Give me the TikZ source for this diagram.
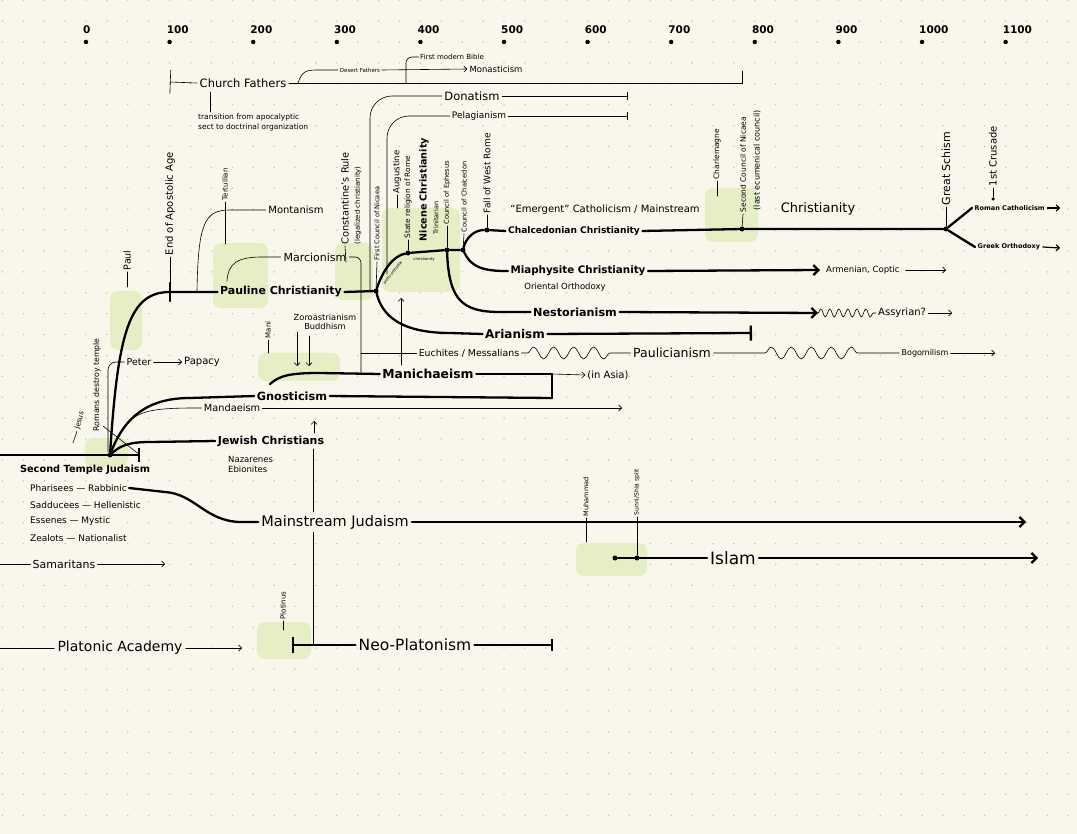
\documentclass[tikz,border=0pt]{standalone}
\usepackage{fontspec}
\setmainfont{DejaVu Sans}
\usetikzlibrary{arrows.meta,decorations.pathmorphing}
\definecolor{paper}{RGB}{249,246,236}
\definecolor{dotc}{RGB}{192,190,182}
\definecolor{hlc}{RGB}{229,238,197}
\newcommand{\fsz}[1]{\fontsize{#1}{#1}\selectfont}
\tikzset{
  yr/.style      = {font=\bfseries\fsz{10.5}, inner sep=1pt, anchor=west},
  sect/.style    = {font=\bfseries\fsz{11}, inner sep=2.5pt},
  big/.style     = {font=\fsz{14.5}, inner sep=3pt},
  medlab/.style  = {font=\fsz{10}, inner sep=2.5pt},
  note/.style    = {font=\fsz{8}, inner sep=2pt},
  tinylab/.style = {font=\fsz{6}, inner sep=1.5pt},
  vlab/.style    = {rotate=90, anchor=west, inner sep=1.5pt},
  main/.style    = {line width=2.3pt, line cap=round, line join=round},
  fine/.style    = {line width=0.6pt, line cap=round},
  arr/.style     = {fine, -{Straight Barb[length=3pt,width=6pt]}},
  marr/.style    = {main, -{Straight Barb[length=5pt,width=10pt]}},
  wavy/.style    = {decoration={snake, amplitude=6pt, segment length=20pt}},
  hl/.style      = {fill=hlc, rounded corners=8pt},
  jdot/.style    = {circle, fill=black, inner sep=0pt, minimum size=5pt},
}

\begin{document}
\begin{tikzpicture}[x=1pt, y=-1pt]
  \useasboundingbox (0,0) rectangle (1077,834);
  \fill[paper] (0,0) rectangle (1077,834);
  \foreach \i in {0,...,51}
    \foreach \j in {0,...,39}
      \fill[dotc] ({2.4+20.9*\i},{0.2+20.9*\j}) circle (0.8pt);

  % highlights
  \fill[hl] (85,438) rectangle (128,467);
  \fill[hl] (110,291) rectangle (142,350);
  \fill[hl] (213,243) rectangle (268,308);
  \fill[hl] (335,243) rectangle (373,300);
  \fill[hl] (382,208) rectangle (460,292);
  \fill[hl] (258,353) rectangle (340,381);
  \fill[hl] (705,188) rectangle (758,242);
  \fill[hl] (576,543) rectangle (647,576);
  \fill[hl] (257,622) rectangle (311,659);

  % years
  \foreach \n [count=\i from 0] in {0,100,...,1100} {
    \node[jdot, minimum size=4.5pt] (yd\n) at ({86+83.6*\i},42) {};
    \node[yr] (y\n) at ({82+83.6*\i},30) {\n};
  }

  % church fathers
  \coordinate (cf0) at (170,82);
  \node[medlab, font=\fsz{11.5}] (cf) at (243,83) {Church Fathers};
  \coordinate (cfend) at (742,83);
  \coordinate (cftop) at (742,71);
  \coordinate (dfb) at (298,83);
  \node[tinylab, font=\fsz{5.5}] (desert) at (360,70) {Desert Fathers};
  \node[note, font=\fsz{8.5}] (monast) at (496,69) {Monasticism};
  \coordinate (bib) at (406,83);
  \node[tinylab, font=\fsz{7}] (bible) at (452,57) {First modern Bible};
  \coordinate (tcf) at (210,92);
  \node[note, font=\fontsize{7.5}{10}\selectfont, align=left, anchor=north west] (trans) at (196,112)
    {transition from apocalyptic\\sect to doctrinal organization};
  \draw[fine, {Bar[width=24pt]}-] (cf0) -- (cf.west);
  \draw[fine] (cf.east) -- (cfend) -- (cftop);
  \draw[fine] (dfb) .. controls (302,71) and (306,70) .. (318,70) -- (desert.west);
  \draw[arr] (desert.east) -- (monast.west);
  \draw[fine, rounded corners=6pt] (bib) |- (bible.west);
  \draw[fine] (tcf) -- (tcf |- trans.north);

  % donatism, pelagianism
  \node[medlab, font=\fsz{11.5}] (donat) at (472,96) {Donatism};
  \coordinate (donend) at (628,96);
  \coordinate (don0) at (370,291);
  \node[note, font=\fsz{9}] (pelag) at (479,116) {Pelagianism};
  \coordinate (pelend) at (628,116);
  \coordinate (pel0) at (387,274);
  \draw[fine, -{Bar[width=8pt]}] (donat.east) -- (donend);
  \draw[fine, rounded corners=22pt] (donat.west) -| (don0);
  \draw[fine, -{Bar[width=8pt]}] (pelag.east) -- (pelend);
  \draw[fine, rounded corners=22pt] (pelag.west) -| (pel0);

  % second temple judaism, pauline christianity
  \node[jdot] (root) at (110,455) {};
  \coordinate (stj0) at (0,455);
  \coordinate (stjend) at (140,455);
  \node[sect, font=\bfseries\fsz{9.8}] (stj) at (85,470) {Second Temple Judaism};
  \coordinate (apos) at (170,292);
  \node[sect] (pauline) at (281,292) {Pauline Christianity};
  \node[jdot] (nic) at (376,291) {};
  \node[vlab, font=\fsz{10}] (aposlab) at (170,257) {End of Apostolic Age};
  \coordinate (paul0) at (127,287);
  \node[vlab, font=\fsz{9.5}] (paullab) at (127,272) {Paul};
  \coordinate (tert0) at (225,244);
  \node[vlab, font=\fsz{7}] (tertlab) at (225,202) {Tertullian};
  \coordinate (mont0) at (197,292);
  \node[medlab] (montan) at (296,210) {Montanism};
  \coordinate (marc0) at (227,281);
  \node[medlab, font=\fsz{11}] (marcion) at (315,257) {Marcionism};
  \coordinate (const0) at (346,262);
  \node[vlab, font=\fsz{9.8}] (constlab) at (345,246) {Constantine's Rule};
  \node[vlab, font=\fsz{7}] (legal) at (358,246) {(legalized christianity)};
  \node[vlab, font=\fsz{6.6}] (niclab) at (377,262) {First Council of Nicaea};
  \coordinate (jes0) at (73,443);
  \node[tinylab, font=\fsz{7}, rotate=75, anchor=west] (jesus) at (77,431) {Jesus};
  \node[vlab, font=\fsz{7.8}] (romans) at (97,433) {Romans destroy temple};
  \coordinate (rom0) at (103,426);
  \coordinate (pet0) at (108,452);
  \node[note, font=\fsz{9.5}] (peter) at (139,362) {Peter};
  \node[note, font=\fsz{10}] (papacy) at (202,362) {Papacy};
  \draw[main, -{Bar[width=14pt]}] (stj0) -- (stjend);
  \draw[main] (root) .. controls (118,330) and (130,292) .. (apos) -- (pauline.west);
  \draw[main] ([yshift=9pt]apos) -- ([yshift=-9pt]apos);
  \draw[fine] (apos) -- (aposlab.west);
  \draw[fine] (paul0) -- (paullab.west);
  \draw[fine] (tert0) -- (tertlab.west);
  \draw[fine] (mont0) .. controls (198,222) and (205,210) .. (230,210) -- (montan.west);
  \draw[fine] (marc0) .. controls (228,263) and (238,257) .. (262,257) -- (marcion.west);
  \draw[fine] (const0) -- (constlab.west);
  \draw[main] (pauline.east) -- (nic);
  \draw[fine] (nic) -- (niclab.west);
  \draw[fine] (jes0) -- (jesus.west);
  \draw[fine] (rom0) -- (stjend);
  \draw[fine, rounded corners=8pt] (pet0) |- (peter.west);
  \draw[arr] (peter.east) -- (papacy.west);

  % proto-orthodox, nicene
  \node[jdot] (srr) at (408,253) {};
  \node[jdot] (eph) at (447,250) {};
  \node[jdot] (chal) at (463,250) {};
  \node[jdot] (fwr) at (487,230) {};
  \node[tinylab, font=\fsz{3.8}, rotate=52] (proto) at (393,273) {proto-orthodox};
  \node[tinylab, font=\fsz{3.8}] (protoc) at (424,259) {christianity};
  \coordinate (aug0) at (397,208);
  \node[vlab, font=\fsz{8.5}] (auglab) at (397,195) {Augustine};
  \node[vlab, font=\fsz{7.4}] (srrlab) at (408,240) {State religion of Rome};
  \node[vlab, font=\bfseries\fsz{9.6}] (nicene) at (424,243) {Nicene Christianity};
  \node[vlab, font=\fsz{6.5}] (trinit) at (436,236) {Trinitarian};
  \node[vlab, font=\fsz{6.7}] (ephlab) at (447,226) {Council of Ephesus};
  \node[vlab, font=\fsz{6.7}] (challab) at (464,234) {Council of Chalcedon};
  \node[vlab, font=\fsz{9}] (fwrlab) at (487,215) {Fall of West Rome};
  \draw[main] (nic) .. controls (383,270) and (393,256) .. (srr) -- (eph) -- (chal);
  \draw[fine] (aug0) -- (auglab.west);
  \draw[fine] (srr) -- (srrlab.west);
  \draw[fine] (eph) -- (ephlab.west);
  \draw[fine] (chal) -- (challab.west);
  \draw[fine] (fwr) -- (fwrlab.west);

  % chalcedonian and after
  \node[sect, font=\bfseries\fsz{9.1}] (chalced) at (574,231) {Chalcedonian Christianity};
  \node[medlab] (emerg) at (605,210) {``Emergent'' Catholicism / Mainstream};
  \node[medlab, font=\fsz{13}] (christ) at (818,209) {Christianity};
  \node[jdot] (sc2) at (742,229) {};
  \coordinate (charl0) at (717,196);
  \node[vlab, font=\fsz{7.5}] (charl) at (717,181) {Charlemagne};
  \node[vlab, font=\fsz{7.5}] (sc2lab) at (743,214) {Second Council of Nicaea};
  \node[vlab, font=\fsz{8}] (lastec) at (757,212) {(last ecumenical council)};
  \node[jdot] (gs) at (946,229) {};
  \node[vlab, font=\fsz{11}] (gslab) at (946,207) {Great Schism};
  \node[sect, font=\bfseries\fsz{6.5}, anchor=west] (rc) at (972,208) {Roman Catholicism};
  \coordinate (rcend) at (1060,208);
  \node[jdot, minimum size=3.5pt] (cru) at (993,199) {};
  \node[vlab, font=\fsz{10}] (crulab) at (993,188) {1st Crusade};
  \node[sect, font=\bfseries\fsz{6.5}, anchor=west] (go) at (975,247) {Greek Orthodoxy};
  \coordinate (goend) at (1060,248);
  \draw[main] (chal) .. controls (466,238) and (474,230) .. (fwr) -- (chalced.west);
  \draw[main] (chalced.east) -- (sc2) -- (gs);
  \draw[fine] (charl0) -- (charl.west);
  \draw[fine] (sc2) -- (sc2lab.west);
  \draw[fine] (gs) -- (gslab.west);
  \draw[main] (gs) -- (rc.west);
  \draw[main] (gs) -- (go.west);
  \draw[arr, line width=1.2pt] (rc.east) -- (rcend);
  \draw[arr, line width=1.2pt] (go.east) -- (goend);
  \draw[fine] (cru) -- (crulab.west);

  % miaphysite, nestorian, arian
  \node[sect, font=\bfseries\fsz{10.3}] (miaph) at (578,271) {Miaphysite Christianity};
  \node[note, font=\fsz{8.5}] (orient) at (565,287) {Oriental Orthodoxy};
  \node[note, font=\fsz{8.5}, anchor=west, inner xsep=6pt] (armen) at (820,270) {Armenian, Coptic};
  \coordinate (armend) at (946,270);
  \node[sect, font=\bfseries\fsz{11.2}] (nest) at (575,312) {Nestorianism};
  \coordinate (nestar) at (818,313);
  \node[note, font=\fsz{10}, anchor=west] (assyr) at (876,313) {Assyrian?};
  \coordinate (assyrend) at (952,313);
  \node[sect, font=\bfseries\fsz{12}] (arian) at (515,334) {Arianism};
  \coordinate (arianend) at (752,333);
  \draw[main] (chal) .. controls (470,264) and (478,271) .. (505,271) -- (miaph.west);
  \draw[marr] (miaph.east) -- (armen.west);
  \draw[arr] (armen.east) -- (armend);
  \draw[main] (eph) .. controls (449,300) and (462,312) .. (500,312) -- (nest.west);
  \draw[marr] (nest.east) -- (nestar);
  \draw[fine, decorate, decoration={snake, amplitude=4pt, segment length=9pt}] (nestar) -- (assyr.west);
  \draw[arr] (assyr.east) -- (assyrend);
  \draw[main] (nic) .. controls (382,315) and (400,333) .. (450,333) -- (arian.west);
  \draw[main, -{Bar[width=15pt]}] (arian.east) -- (arianend);

  % euchites, paulicianism
  \coordinate (euc0) at (361,353);
  \node[note, font=\fsz{9.4}] (euch) at (469,353) {Euchites / Messalians};
  \node[medlab, font=\fsz{12.5}] (paulic) at (672,353) {Paulicianism};
  \coordinate (bw0) at (765,353);
  \coordinate (bw1) at (865,353);
  \node[note] (bogom) at (925,353) {Bogomilism};
  \coordinate (bogend) at (995,353);
  \coordinate (up0) at (401,365);
  \coordinate (up1) at (401,298);
  \draw[fine] (euc0) -- (euch.west);
  \draw[fine] (euch.east) -- ++(6,0) decorate[wavy] {-- ++(84,0)} -- (paulic.west);
  \draw[fine] (paulic.east) -- (bw0) decorate[wavy] {-- (bw1)} -- (bogom.west);
  \draw[arr] (bogom.east) -- (bogend);
  \draw[arr] (up0) -- (up1);

  % manichaeism
  \coordinate (manc0) at (270,384);
  \coordinate (manc1) at (361,373);
  \node[sect, font=\bfseries\fsz{12.4}] (manich) at (428,374) {Manichaeism};
  \coordinate (manend) at (552,374);
  \coordinate (gnend) at (552,398);
  \node[note, font=\fsz{10}] (inasia) at (608,375) {(in Asia)};
  \coordinate (mani0) at (268,353);
  \node[vlab, font=\fsz{7}] (manilab) at (268,340) {Mani};
  \node[tinylab, align=center, font=\fontsize{8.3}{9.5}\selectfont] (zoro) at (325,322) {Zoroastrianism\\Buddhism};
  \coordinate (zar1) at (297,332); \coordinate (zar1e) at (297,366);
  \coordinate (zar2) at (309,336); \coordinate (zar2e) at (309,366);
  \draw[fine, rounded corners=6pt] (marcion.east) -| (manc1);
  \draw[main] (manc0) .. controls (280,375) and (292,373) .. (320,373) -- (manich.west);
  \draw[main] (manich.east) -- (manend) -- (gnend);
  \draw[arr] (manend) -- (inasia.west);
  \draw[fine] (mani0) -- (manilab.west);
  \draw[arr] (zar1) -- (zar1e);
  \draw[arr] (zar2) -- (zar2e);

  % gnosticism, mandaeism, jewish christians
  \node[sect, font=\bfseries\fsz{11.3}] (gnostic) at (292,396) {Gnosticism};
  \coordinate (mand0) at (133,418);
  \node[note, font=\fsz{9.8}] (mandae) at (232,408) {Mandaeism};
  \coordinate (mandend) at (622,408);
  \node[sect] (jewc) at (271,441) {Jewish Christians};
  \node[note, font=\fontsize{8.5}{10}\selectfont, align=left, anchor=north west] (nazar) at (226,454) {Nazarenes\\Ebionites};
  \coordinate (up2) at (314,421);
  \draw[main] (root) .. controls (125,415) and (150,398) .. (190,398) -- (gnostic.west);
  \draw[main] (gnostic.east) -- (gnend);
  \draw[fine] (mand0) .. controls (145,410) and (160,408) .. (195,408) -- (mandae.west);
  \draw[arr] (mandae.east) -- (mandend);
  \draw[main] (root) .. controls (120,446) and (128,442) .. (150,442) -- (jewc.west);
  \draw[arr] (jewc.north -| up2) -- (up2);

  % mainstream judaism
  \node[note, font=\fsz{9}, anchor=west] (phar) at (28,488) {Pharisees — Rabbinic};
  \node[note, font=\fsz{9}, anchor=west] (sadd) at (28,505) {Sadducees — Hellenistic};
  \node[note, font=\fsz{9}, anchor=west] (ess) at (28,521) {Essenes — Mystic};
  \node[note, font=\fsz{9}, anchor=west] (zeal) at (28,538) {Zealots — Nationalist};
  \node[big] (mj) at (335,522) {Mainstream Judaism};
  \coordinate (mjend) at (1026,522);
  \draw[main] (phar.east) -- (165,492) .. controls (195,494) and (205,521) .. (240,522) -- (mj.west);
  \draw[marr] (mj.east) -- (mjend);

  % islam
  \node[jdot] (musl0) at (615,558) {};
  \node[jdot] (split) at (637,558) {};
  \node[big, font=\fsz{17}] (islam) at (733,558) {Islam};
  \coordinate (islend) at (1038,558);
  \coordinate (muh0) at (586,542);
  \node[vlab, font=\fsz{6.6}] (muhlab) at (586,518) {Muhammad};
  \node[vlab, font=\fsz{6}] (splitlab) at (637,517) {Sunni/Shia split};
  \draw[main] (musl0) -- (split) -- (islam.west);
  \draw[marr] (islam.east) -- (islend);
  \draw[fine] (muh0) -- (muhlab.west);
  \draw[fine] (split) -- (splitlab.west);

  % samaritans, platonism
  \coordinate (sam0) at (0,564);
  \node[note, font=\fsz{11}] (sam) at (64,564) {Samaritans};
  \coordinate (samend) at (165,564);
  \coordinate (pa0) at (0,648);
  \node[big, font=\fsz{14}] (pa) at (120,648) {Platonic Academy};
  \coordinate (paend) at (242,648);
  \coordinate (np0) at (292,645);
  \node[big, font=\fsz{15.5}] (np) at (415,645) {Neo-Platonism};
  \coordinate (npend) at (553,645);
  \coordinate (npj) at (313,645);
  \coordinate (plo0) at (283,630);
  \node[vlab, font=\fsz{7}] (plolab) at (283,621) {Plotinus};
  \draw[fine] (sam0) -- (sam.west);
  \draw[arr] (sam.east) -- (samend);
  \draw[fine] (pa0) -- (pa.west);
  \draw[arr] (pa.east) -- (paend);
  \draw[main, {Bar[width=16pt]}-] (np0) -- (np.west);
  \draw[main, -{Bar[width=12pt]}] (np.east) -- (npend);
  \draw[fine] (plo0) -- (plolab.west);
  \draw[fine] (npj) -- (npj |- mj.south);
  \draw[fine] (npj |- mj.north) -- (npj |- jewc.south);
\end{tikzpicture}
\end{document}
